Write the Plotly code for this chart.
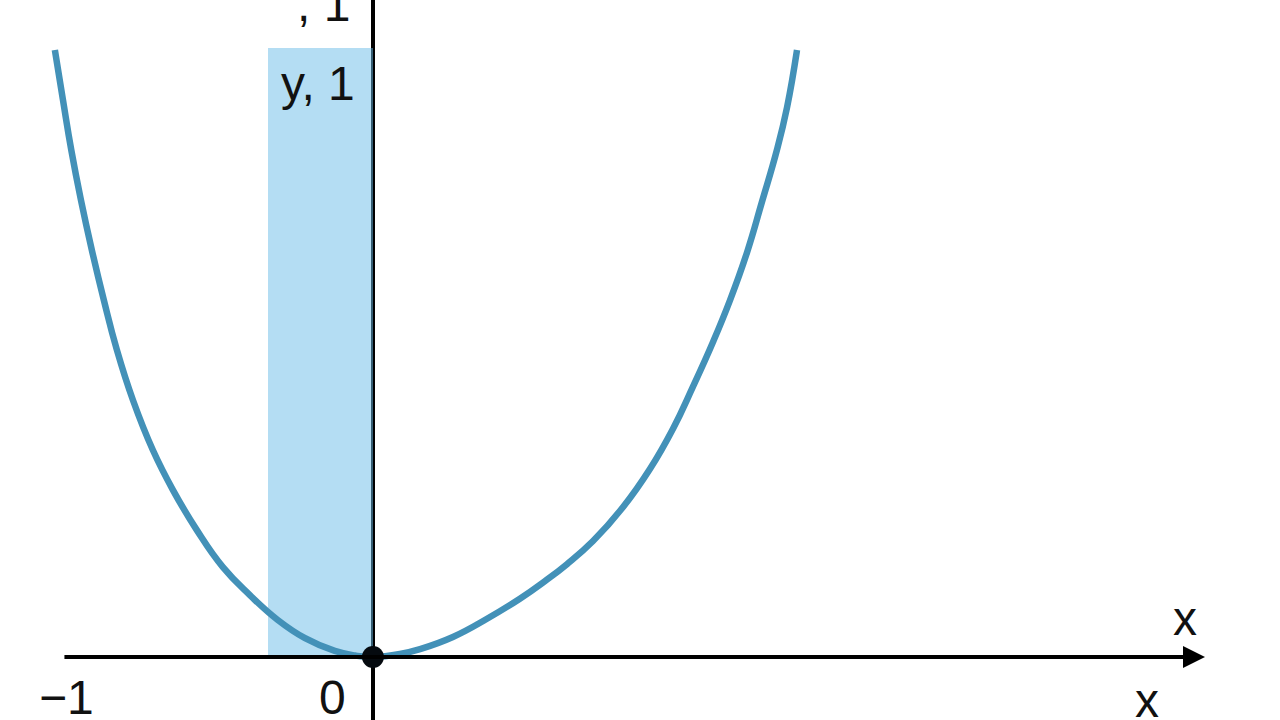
import plotly.graph_objects as go

# points (left branch, vertex, right branch)
curve_x = [-1.026, -1.0, -0.973, -0.942, -0.907, -0.868, -0.826, -0.774, -0.710,
           -0.645, -0.568, -0.484, -0.397, -0.307, -0.219, -0.123, -0.058, 0.0,
           0.087, 0.152, 0.258, 0.368, 0.474, 0.555, 0.626, 0.710, 0.807,
           0.894, 0.968, 1.032, 1.097, 1.152, 1.207, 1.255, 1.303, 1.336, 1.368]
curve_y = [1.0, 0.918, 0.835, 0.753, 0.671, 0.588, 0.506, 0.423, 0.341,
           0.275, 0.209, 0.148, 0.102, 0.061, 0.031, 0.010, 0.0025, 0.0,
           0.005, 0.013, 0.033, 0.063, 0.096, 0.125, 0.153, 0.191, 0.247,
           0.310, 0.376, 0.445, 0.519, 0.588, 0.667, 0.750, 0.835, 0.906, 1.0]

# shaded strip
strip_left = -0.339
strip_right = 0.0
strip_top = 1.003

# labels
tick_labels = ["\u22121", "0"]
tick_pos = [-0.99, -0.129]

font = dict(family="Liberation Sans, Arial, sans-serif", size=48, color="#111111")

fig = go.Figure()

fig.add_trace(go.Bar(
    x=[(strip_left + strip_right) / 2], y=[strip_top], width=[strip_right - strip_left],
    marker=dict(color="rgba(105,188,232,0.5)", line=dict(width=0)),
    hoverinfo="skip"))

fig.add_trace(go.Scatter(
    x=curve_x, y=curve_y, mode="lines",
    line=dict(color="#4391b8", width=6.5, shape="spline", smoothing=1.3),
    hoverinfo="skip"))

fig.add_trace(go.Scatter(
    x=[0], y=[0], mode="markers",
    marker=dict(color="#050a0f", size=22), hoverinfo="skip"))

# x axis with arrow
fig.add_annotation(x=2.684, y=0, ax=-1.0, ay=0, xref="x", yref="y", axref="x", ayref="y",
                   showarrow=True, arrowhead=2, arrowsize=1.1, arrowwidth=4,
                   arrowcolor="#000000", standoff=0, text="")

for t, p in zip(tick_labels, tick_pos):
    fig.add_annotation(x=p, y=-0.066, text=t, showarrow=False, font=font,
                       xanchor="center", yanchor="middle")

fig.add_annotation(x=2.619, y=0.064, text="x", showarrow=False, font=font)
fig.add_annotation(x=2.497, y=-0.071, text="x", showarrow=False, font=font)
fig.add_annotation(x=-0.177, y=0.945, text="y, 1", showarrow=False, font=font)
fig.add_annotation(x=-0.066, y=1.075, text=", 1", showarrow=False, font=font,
                   xanchor="right")
fig.add_annotation(x=0.135, y=1.09, text="y", showarrow=False, font=font)

fig.update_layout(
    width=1280, height=720, autosize=False,
    margin=dict(l=0, r=0, t=0, b=0),
    paper_bgcolor="white", plot_bgcolor="white",
    showlegend=False, bargap=0,
    xaxis=dict(range=[-1.203, 2.926], showgrid=False, showticklabels=False,
               zeroline=True, zerolinecolor="#000000", zerolinewidth=4,
               fixedrange=True),
    yaxis=dict(range=[-0.1038, 1.0824], showgrid=False, showticklabels=False,
               zeroline=False, fixedrange=True),
)

fig.write_html("out.html", config={"displayModeBar": False},
               post_script="document.body.style.margin='0';")
